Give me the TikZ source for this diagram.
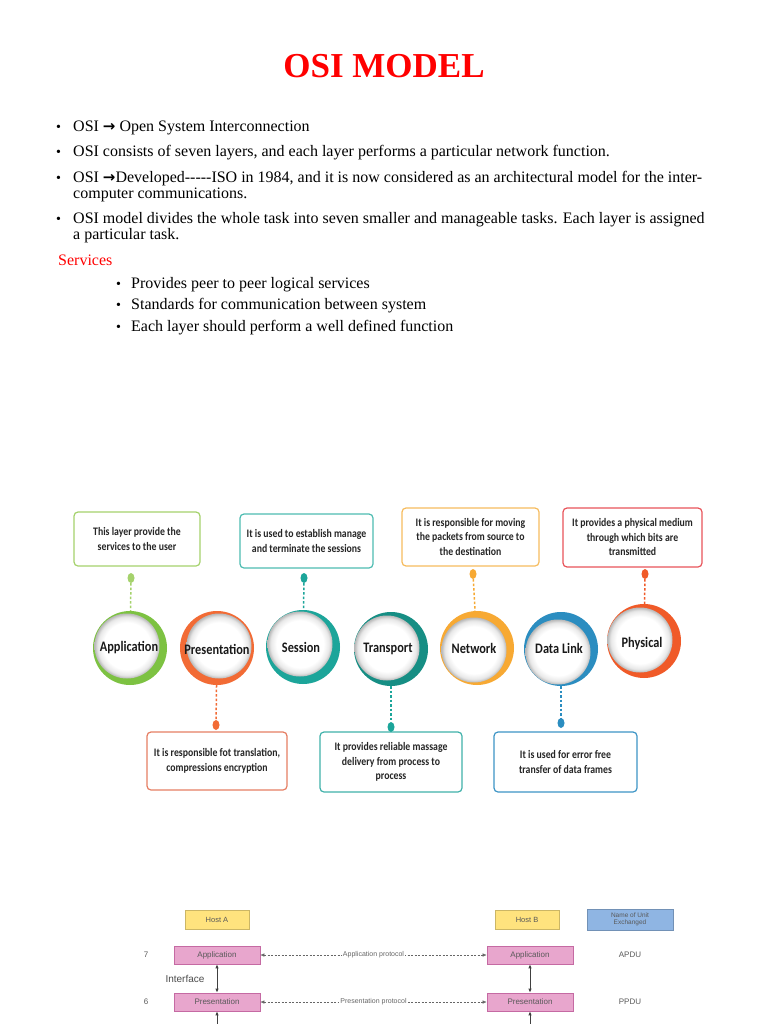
\documentclass[tikz,border=0pt]{standalone}
\usepackage{fontspec}
\setmainfont{Liberation Serif}
\newfontfamily\diag[FakeStretch=0.85]{Carlito}
\newfontfamily\arial{Liberation Sans}
\newfontfamily\symf{DejaVu Sans}
\usetikzlibrary{shapes.geometric,arrows.meta}

\definecolor{titlered}{HTML}{FF0000}
\definecolor{cgreen}{HTML}{7DC242}
\definecolor{cpres}{HTML}{F26B35}
\definecolor{cteal}{HTML}{1CA59A}
\definecolor{ctrans}{HTML}{168E84}
\definecolor{cnet}{HTML}{F7A933}
\definecolor{cblue}{HTML}{2B8DC0}
\definecolor{cphys}{HTML}{F05A28}
\definecolor{bgreen}{HTML}{A5D26C}
\definecolor{bteal}{HTML}{4DBCB1}
\definecolor{borange}{HTML}{F6BC5E}
\definecolor{bred}{HTML}{E8545A}
\definecolor{bpres}{HTML}{E67E63}
\definecolor{bteal2}{HTML}{3FB1AA}
\definecolor{bblue}{HTML}{3D95C6}
\definecolor{hostfill}{HTML}{FFE37E}
\definecolor{namefill}{HTML}{8FB5E3}
\definecolor{pinkfill}{HTML}{E8A6CD}
\definecolor{pinkdraw}{HTML}{C56AA3}

\pgfdeclareradialshading{discshade}{\pgfpoint{0bp}{0bp}}{color(0bp)=(white); color(18bp)=(white); color(22.5bp)=(black!9); color(25bp)=(black!28); color(50bp)=(black!28)}

\begin{document}
\begin{tikzpicture}[x=1pt,y=-1pt,
  body/.style={anchor=base west, inner sep=0pt, font=\fontsize{16}{18}\selectfont},
  bul/.style={anchor=base west, inner sep=0pt, font=\fontsize{14}{15}\selectfont},
  infobox/.style={draw=#1, line width=1.2pt, rounded corners=4pt, fill=white, align=center,
     font=\diag\bfseries\fontsize{11.5}{14.5}\selectfont, text=black!85, inner sep=0pt},
  layerdisc/.style={circle, fill=#1, minimum size=74pt, inner sep=0pt},
  layertext/.style={font=\diag\bfseries\fontsize{14.5}{15}\selectfont, text=black!90, inner sep=0pt},
  pinmark/.style={ellipse, fill=#1, minimum width=7pt, minimum height=10pt, inner sep=0pt},
  link/.style={draw=#1, line width=1.5pt, dash pattern=on 2.5pt off 2pt},
  hostbox/.style={fill=#1, draw=#1!80!black, line width=0.5pt, inner sep=0pt,
     font=\arial\fontsize{7.5}{8}\selectfont, text=black!65, align=center},
  layerbox/.style={fill=pinkfill, draw=pinkdraw, line width=0.7pt, minimum width=86pt,
     minimum height=18pt, inner sep=0pt, font=\arial\fontsize{8}{9}\selectfont, text=black!65},
  small/.style={font=\arial\fontsize{8}{9}\selectfont, text=black!65, inner sep=0pt},
  proto/.style={draw=black!60, line width=0.5pt, dash pattern=on 2pt off 1.5pt,
     {Latex[length=4pt,width=3.5pt]}-{Latex[length=4pt,width=3.5pt]}},
  vert/.style={draw=black!75, line width=0.8pt,
     {Latex[length=4pt,width=3.5pt]}-{Latex[length=4pt,width=3.5pt]}},
  protolabel/.style={fill=white, inner sep=1pt, font=\arial\fontsize{7}{8}\selectfont, text=black!60}
]
\useasboundingbox (0,0) rectangle (768,1024);
\fill[white] (0,0) rectangle (768,1024);

% ---------- title ----------
\node[anchor=base, inner sep=0pt, text=titlered, font=\bfseries\fontsize{35}{40}\selectfont] (title) at (384,78) {OSI MODEL};

% ---------- bullets ----------
\node[bul] (b1) at (56,132) {•};
\node[body] (t1) at (73,132) {OSI {\symf\bfseries\fontsize{15}{16}\selectfont →} Open System Interconnection};
\node[bul] (b2) at (56,157) {•};
\node[body] (t2) at (73,157) {OSI consists of seven layers, and each layer performs a particular network function.};
\node[bul] (b3) at (56,183) {•};
\node[body] (t3) at (73,183) {OSI {\symf\bfseries\fontsize{15}{16}\selectfont →}Developed-{}-{}-{}-{}-ISO in 1984, and it is now considered as an architectural model for the inter-};
\node[body] (t3b) at (73,199) {computer communications.};
\node[bul] (b4) at (56,224) {•};
\node[body] (t4) at (73,224) {OSI model divides the whole task into seven smaller and manageable tasks. Each layer is assigned};
\node[body] (t4b) at (73,240) {a particular task.};
\node[body, text=titlered] (serv) at (58,265) {Services};
\node[bul] (s1b) at (116,288) {•};
\node[body] (s1) at (131,288) {Provides peer to peer logical services};
\node[bul] (s2b) at (116,309) {•};
\node[body] (s2) at (131,309) {Standards for communication between system};
\node[bul] (s3b) at (116,331) {•};
\node[body] (s3) at (131,331) {Each layer should perform a well defined function};

% ---------- info boxes ----------
\node[infobox=bgreen, minimum width=126pt, minimum height=54pt] (boxapp) at (137,539) {This layer provide the\\services to the user};
\node[infobox=bteal, minimum width=133pt, minimum height=54pt] (boxsess) at (306.5,541) {It is used to establish manage\\and terminate the sessions};
\node[infobox=borange, minimum width=137pt, minimum height=58pt] (boxnet) at (470.5,537) {It is responsible for moving\\the packets from source to\\the destination};
\node[infobox=bred, minimum width=139pt, minimum height=59pt] (boxphys) at (632.5,537.5) {It provides a physical medium\\through which bits are\\transmitted};
\node[infobox=bpres, minimum width=140pt, minimum height=58pt] (boxpres) at (217,761) {It is responsible fot translation,\\compressions encryption};
\node[infobox=bteal2, minimum width=142pt, minimum height=60pt] (boxtrans) at (391,762) {It provides reliable massage\\delivery from process to\\process};
\node[infobox=bblue, minimum width=143pt, minimum height=60pt] (boxdl) at (565.5,762) {It is used for error free\\transfer of data frames};

% ---------- layer circles ----------
\node[layerdisc=cgreen] (app) at (130,648) {};
\node[layerdisc=cpres] (pres) at (217,648) {};
\node[layerdisc=cteal] (sess) at (303,647) {};
\node[layerdisc=ctrans] (trans) at (391,649) {};
\node[layerdisc=cnet] (net) at (477,648) {};
\node[layerdisc=cblue] (dl) at (561,649) {};
\node[layerdisc=cphys] (phys) at (644,641) {};

\shade[shading=discshade] (127,646) circle (32.5);
\shade[shading=discshade] (219,646) circle (32.5);
\shade[shading=discshade] (300,644) circle (32.5);
\shade[shading=discshade] (387,648) circle (32.5);
\shade[shading=discshade] (474,650) circle (32.5);
\shade[shading=discshade] (558,652) circle (32.5);
\shade[shading=discshade] (640,640) circle (32.5);

\node[layertext] (appt) at (129,648) {Application};
\node[layertext] (prest) at (217,649) {Presentation};
\node[layertext] (sesst) at (301,647) {Session};
\node[layertext] (transt) at (388,649) {Transport};
\node[layertext] (nett) at (474,648) {Network};
\node[layertext] (dlt) at (559,648) {Data Link};
\node[layertext] (physt) at (642,644) {Physical};

% ---------- pins and dotted links ----------
\node[pinmark=bgreen] (pinapp) at (131,578) {};
\node[pinmark=cteal] (pinsess) at (304,578) {};
\node[pinmark=cnet] (pinnet) at (473,574) {};
\node[pinmark=cphys] (pinphys) at (645,574) {};
\node[pinmark=cpres] (pinpres) at (216,725) {};
\node[pinmark=cteal] (pintrans) at (391,727) {};
\node[pinmark=cblue] (pindl) at (561,723) {};

\draw[link=bgreen] (pinapp) -- (app);
\draw[link=cteal] (pinsess) -- (sess);
\draw[link=cnet] (pinnet) -- (net);
\draw[link=cphys] (pinphys) -- (phys);
\draw[link=cpres] (pres) -- (pinpres);
\draw[link=cteal] (trans) -- (pintrans);
\draw[link=cblue] (dl) -- (pindl);

% ---------- bottom host diagram ----------
\node[hostbox=hostfill, minimum width=64pt, minimum height=19pt] (hosta) at (217,919.5) {Host A};
\node[hostbox=hostfill, minimum width=64pt, minimum height=19pt] (hostb) at (527,919.5) {Host B};
\node[hostbox=namefill, minimum width=86pt, minimum height=21pt, font=\arial\fontsize{6.5}{7}\selectfont] (unit) at (630,919.5) {Name of Unit\\Exchanged};

\node[small] (n7) at (146,955) {7};
\node[small] (n6) at (146,1002) {6};
\node[layerbox] (appa) at (217,955) {Application};
\node[layerbox] (appb) at (530,955) {Application};
\node[layerbox] (presa) at (217,1002) {Presentation};
\node[layerbox] (presb) at (530,1002) {Presentation};
\node[small] (apdu) at (630,955) {APDU};
\node[small] (ppdu) at (630,1002) {PPDU};

\draw[proto] (appa) -- node[protolabel] {Application protocol} (appb);
\draw[proto] (presa) -- node[protolabel] {Presentation protocol} (presb);
\draw[vert] (appa) -- (presa);
\draw[vert] (appb) -- (presb);
\node[font=\arial\fontsize{10}{11}\selectfont, text=black!70, inner sep=0pt] (iface) at (185,979) {Interface};

\coordinate (downa) at (217,1026);
\coordinate (downb) at (530,1026);
\draw[draw=black!75, line width=0.8pt, -{Latex[length=4pt,width=3.5pt]}] (downa) -- (presa);
\draw[draw=black!75, line width=0.8pt, -{Latex[length=4pt,width=3.5pt]}] (downb) -- (presb);
\end{tikzpicture}
\end{document}
